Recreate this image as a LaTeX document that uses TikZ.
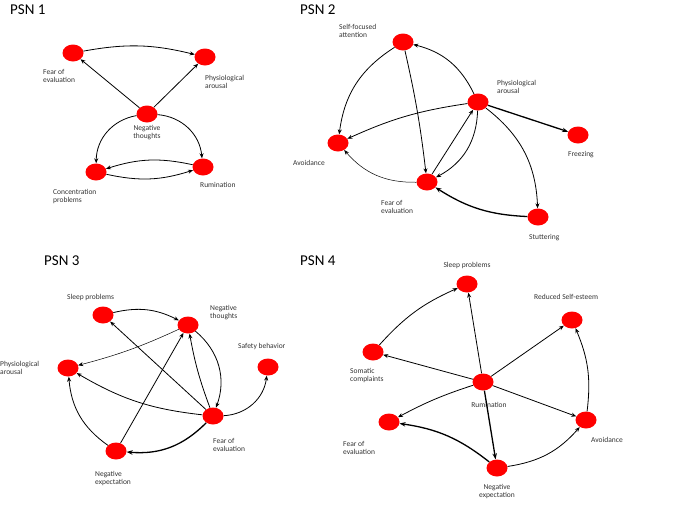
\documentclass[tikz,border=0pt]{standalone}
\usepackage{fontspec}
\setmainfont{Carlito}
\usetikzlibrary{arrows.meta,shapes.geometric}
\begin{document}
\begin{tikzpicture}[x=1pt,y=-1pt,
  nd/.style={ellipse,fill=red,minimum width=21pt,minimum height=17pt,inner sep=0pt},
  lb/.style={font=\fontsize{7.5}{8.5}\selectfont,align=left,inner sep=0pt,text=black!80},
  ttl/.style={font=\fontsize{15}{16}\selectfont,anchor=west,inner sep=0pt},
  e/.style={-{Stealth[length=5pt,width=4pt]},line width=0.8pt},
  t/.style={-{Stealth[length=5pt,width=4pt]},line width=0.5pt},
  b/.style={-{Stealth[length=6pt,width=4.5pt]},line width=1.3pt}]
\useasboundingbox (0,0) rectangle (685,509);
% PSN 1
\node[ttl] (t1) at (10,10) {PSN 1};
\node[nd] (a1) at (73,53) {};
\node[nd] (a2) at (205,57) {};
\node[nd] (a3) at (147,114) {};
\node[nd] (a4) at (96,172) {};
\node[nd] (a5) at (203,167) {};
\node[lb,anchor=north west] (la1) at (43,69) {Fear of\\evaluation};
\node[lb,anchor=north west] (la2) at (205,75) {Physiological\\arousal};
\node[lb,anchor=north,align=center] (la3) at (147,125) {Negative\\thoughts};
\node[lb,anchor=north west] (la4) at (53,189) {Concentration\\problems};
\node[lb,anchor=north west] (la5) at (200,182) {Rumination};
\draw[e] (a1) to[bend left=12] (a2);
\draw[e] (a3) -- (a1);
\draw[e] (a3) -- (a2);
\draw[e] (a3) to[bend right=40] (a4);
\draw[e] (a3) to[bend left=40] (a5);
\draw[e] (a4) to[bend right=15] (a5);
\draw[e] (a5) to[bend right=15] (a4);
% PSN 2
\node[ttl] (t2) at (300,10) {PSN 2};
\node[nd] (b1) at (403,42) {};
\node[nd] (b2) at (478,102) {};
\node[nd] (b3) at (578,135) {};
\node[nd] (b4) at (338,143) {};
\node[nd] (b5) at (427,182) {};
\node[nd] (b6) at (538,217) {};
\node[lb,anchor=north west] (lb1) at (339,24) {Self-focused\\attention};
\node[lb,anchor=north west] (lb2) at (497,80) {Physiological\\arousal};
\node[lb,anchor=north west] (lb3) at (568,151) {Freezing};
\node[lb,anchor=north west] (lb4) at (293,160) {Avoidance};
\node[lb,anchor=north west] (lb5) at (381,200) {Fear of\\evaluation};
\node[lb,anchor=north west] (lb6) at (529,234) {Stuttering};
\draw[e] (b2) to[bend right=25] (b1);
\draw[e] (b1) to[bend right=25] (b4);
\draw[e] (b1) to[bend left=3] (b5);
\draw[e] (b2) to[bend right=8] (b4);
\draw[e] (b2) to[bend left=30] (b5);
\draw[e] (b5) -- (b2);
\draw[t] (b5) to[bend left=25] (b4);
\draw[b] (b2) -- (b3);
\draw[e] (b2) to[bend left=25] (b6);
\draw[b] (b6) to[bend left=15] (b5);
% PSN 3
\node[ttl] (t3) at (44,261) {PSN 3};
\node[nd] (c1) at (103,315) {};
\node[nd] (c2) at (188,325) {};
\node[nd] (c3) at (68,368) {};
\node[nd] (c4) at (268,367) {};
\node[nd] (c5) at (213,416) {};
\node[nd] (c6) at (116,451) {};
\node[lb,anchor=north west] (lc1) at (67,294) {Sleep problems};
\node[lb,anchor=north west] (lc2) at (210,305) {Negative\\thoughts};
\node[lb,anchor=north west] (lc4) at (238,343) {Safety behavior};
\node[lb,anchor=north west] (lc3) at (0,361) {Physiological\\arousal};
\node[lb,anchor=north west] (lc5) at (213,438) {Fear of\\evaluation};
\node[lb,anchor=north west] (lc6) at (95,471) {Negative\\expectation};
\draw[e] (c1) to[bend left=20] (c2);
\draw[t] (c2) to[bend left=5] (c3);
\draw[e] (c5) -- (c1);
\draw[e] (c5) to[bend left=12] (c3);
\draw[e] (c5) to[bend left=5] (c2);
\draw[e] (c2) to[bend left=35] (c5);
\draw[e] (c5) to[bend right=40] (c4);
\draw[b] (c5) to[bend left=25] (c6);
\draw[e] (c6) -- (c2);
\draw[e] (c6) to[bend left=25] (c3);
% PSN 4
\node[ttl] (t4) at (300,261) {PSN 4};
\node[nd] (d1) at (467,284) {};
\node[nd] (d2) at (572,320) {};
\node[nd] (d3) at (373,352) {};
\node[nd] (d4) at (483,382) {};
\node[nd] (d5) at (389,422) {};
\node[nd] (d6) at (586,420) {};
\node[nd] (d7) at (497,468) {};
\node[lb,anchor=north,align=center] (ld1) at (467,262) {Sleep problems};
\node[lb,anchor=north west] (ld2) at (534,294) {Reduced Self-esteem};
\node[lb,anchor=north west] (ld3) at (350,368) {Somatic\\complaints};
\node[lb,anchor=north,align=center] (ld4) at (489,402) {Rumination};
\node[lb,anchor=north west] (ld5) at (343,441) {Fear of\\evaluation};
\node[lb,anchor=north west] (ld6) at (591,437) {Avoidance};
\node[lb,anchor=north,align=center] (ld7) at (497,484) {Negative\\expectation};
\draw[e] (d3) to[bend left=12] (d1);
\draw[e] (d4) -- (d1);
\draw[e] (d4) -- (d3);
\draw[e] (d4) -- (d2);
\draw[e] (d4) to[bend right=5] (d5);
\draw[e] (d4) -- (d6);
\draw[b] (d4) -- (d7);
\draw[b] (d7) to[bend right=15] (d5);
\draw[e] (d7) to[bend right=20] (d6);
\draw[e] (d6) to[bend right=15] (d2);
\end{tikzpicture}
\end{document}
